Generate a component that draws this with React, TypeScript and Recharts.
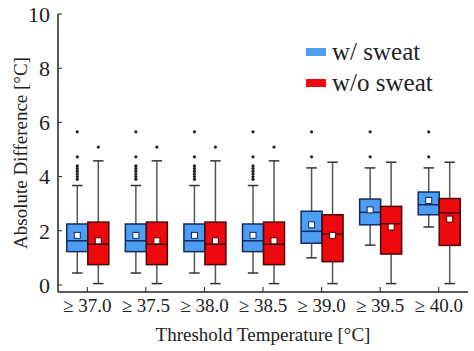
import { ComposedChart, Bar, XAxis, YAxis } from 'recharts'

const categories = ['≥ 37.0', '≥ 37.5', '≥ 38.0', '≥ 38.5', '≥ 39.0', '≥ 39.5', '≥ 40.0']
const seriesNames = ['w/ sweat', 'w/o sweat']
const seriesColors = ['#4c9ef4', '#ee0a0c']
const edgeColors = ['#142a5c', '#4a0808']

// w/ sweat
const blueLow = [0.44, 0.44, 0.44, 0.44, 1.0, 1.47, 2.14]
const blueQ1 = [1.23, 1.23, 1.23, 1.23, 1.54, 2.22, 2.59]
const blueMed = [1.63, 1.63, 1.63, 1.63, 1.98, 2.68, 2.96]
const blueQ3 = [2.25, 2.25, 2.25, 2.25, 2.72, 3.17, 3.43]
const blueHigh = [3.67, 3.67, 3.67, 3.67, 4.32, 4.32, 4.32]
const blueMean = [1.83, 1.83, 1.83, 1.83, 2.22, 2.77, 3.12]
const blueOut = [
  [5.65, 4.73, 4.4, 4.3, 4.2, 4.1, 4.0, 3.9],
  [5.65, 4.73, 4.4, 4.3, 4.2, 4.1, 4.0, 3.9],
  [5.65, 4.73, 4.4, 4.3, 4.2, 4.1, 4.0, 3.9],
  [5.65, 4.73, 4.4, 4.3, 4.2, 4.1, 4.0, 3.9],
  [5.65, 4.73],
  [5.65, 4.73],
  [5.65, 4.73],
]

// w/o sweat
const redLow = [0.05, 0.05, 0.05, 0.05, 0.05, 0.05, 0.05]
const redQ1 = [0.75, 0.75, 0.75, 0.75, 0.86, 1.14, 1.46]
const redMed = [1.5, 1.5, 1.5, 1.5, 1.88, 2.26, 2.66]
const redQ3 = [2.32, 2.32, 2.32, 2.32, 2.59, 2.9, 3.19]
const redHigh = [4.58, 4.58, 4.58, 4.58, 4.53, 4.53, 4.53]
const redMean = [1.63, 1.63, 1.63, 1.63, 1.83, 2.14, 2.43]
const redOut = [[5.09], [5.09], [5.09], [5.09], [], [], []]

const yTicks = [0, 2, 4, 6, 8, 10]

const data = categories.map((name, i) => ({
  name,
  blue: { low: blueLow[i], q1: blueQ1[i], med: blueMed[i], q3: blueQ3[i], high: blueHigh[i], mean: blueMean[i], out: blueOut[i] },
  red: { low: redLow[i], q1: redQ1[i], med: redMed[i], q3: redQ3[i], high: redHigh[i], mean: redMean[i], out: redOut[i] },
}))

const font = '"Liberation Serif", "Times New Roman", serif'

function boxShape(key: 'blue' | 'red', fill: string, edge: string) {
  return (props: any) => {
    const { x, y, width, height, payload } = props
    const s = payload[key]
    // map a value to pixels using the bar's own [low, high] extent
    const py = (v: number) => y + ((s.high - v) / (s.high - s.low)) * height
    const cx = x + width / 2
    const cap = width / 4
    return (
      <g>
        <line x1={cx} x2={cx} y1={py(s.high)} y2={py(s.q3)} stroke="#555" strokeWidth={1.5} />
        <line x1={cx} x2={cx} y1={py(s.q1)} y2={py(s.low)} stroke="#555" strokeWidth={1.5} />
        <line x1={cx - cap} x2={cx + cap} y1={py(s.high)} y2={py(s.high)} stroke="#333" strokeWidth={1.5} />
        <line x1={cx - cap} x2={cx + cap} y1={py(s.low)} y2={py(s.low)} stroke="#333" strokeWidth={1.5} />
        <rect x={x} y={py(s.q3)} width={width} height={py(s.q1) - py(s.q3)} fill={fill} stroke={edge} strokeWidth={1.5} />
        <line x1={x} x2={x + width} y1={py(s.med)} y2={py(s.med)} stroke={edge} strokeWidth={1.5} />
        <rect x={cx - 3} y={py(s.mean) - 3} width={6} height={6} fill="#fff" stroke={edge} strokeWidth={1} />
        {s.out.map((v: number, j: number) => (
          <circle key={j} cx={cx} cy={py(v)} r={1.6} fill="#222" />
        ))}
      </g>
    )
  }
}

function LegendBox() {
  return (
    <div style={{ position: 'absolute', left: 306, top: 36, fontFamily: font, fontSize: 25, color: '#222', lineHeight: '31px' }}>
      {seriesNames.map((n, i) => (
        <div key={n} style={{ display: 'flex', alignItems: 'center' }}>
          <span style={{ display: 'inline-block', width: 20, height: 8, background: seriesColors[i], marginRight: 6 }} />
          {n}
        </div>
      ))}
    </div>
  )
}

export default function App() {
  return (
    <div style={{ position: 'absolute', left: 0, top: 0, width: 474, height: 351, background: '#fff' }}>
      <ComposedChart width={474} height={351} data={data} margin={{ top: 14, right: 6, left: 0, bottom: 0 }} barCategoryGap="15%" barGap={0}>
        <XAxis
          dataKey="name"
          height={59}
          axisLine={{ stroke: '#222', strokeWidth: 1.5 }}
          tickLine={{ stroke: '#222' }}
          tickSize={-5}
          tickMargin={12}
          tick={{ fontFamily: font, fontSize: 19, fill: '#222' }}
          interval={0}
          label={{ value: 'Threshold Temperature [°C]', position: 'insideBottom', offset: 10, style: { fontFamily: font, fontSize: 19, fill: '#222' } }}
        />
        <XAxis xAxisId="top" orientation="top" dataKey="name" height={0} tick={false} tickLine={false} axisLine={{ stroke: '#222', strokeWidth: 1.5 }} />
        <YAxis
          type="number"
          domain={[-0.26, 10]}
          ticks={yTicks}
          allowDataOverflow
          width={58}
          axisLine={{ stroke: '#222', strokeWidth: 1.5 }}
          tickLine={{ stroke: '#222' }}
          tickSize={-4}
          tickMargin={12}
          tick={{ fontFamily: font, fontSize: 22, fill: '#222' }}
          label={{ value: 'Absolute Difference [°C]', angle: -90, position: 'insideLeft', offset: 20, style: { fontFamily: font, fontSize: 19, fill: '#222', textAnchor: 'middle' } }}
        />
        <YAxis yAxisId="right" orientation="right" width={0} tick={false} tickLine={false} axisLine={{ stroke: '#222', strokeWidth: 1.5 }} />
        <Bar name={seriesNames[0]} dataKey={(d: any) => [d.blue.low, d.blue.high]} fill={seriesColors[0]} shape={boxShape('blue', seriesColors[0], edgeColors[0])} isAnimationActive={false} />
        <Bar name={seriesNames[1]} dataKey={(d: any) => [d.red.low, d.red.high]} fill={seriesColors[1]} shape={boxShape('red', seriesColors[1], edgeColors[1])} isAnimationActive={false} />
      </ComposedChart>
      <LegendBox />
    </div>
  )
}
